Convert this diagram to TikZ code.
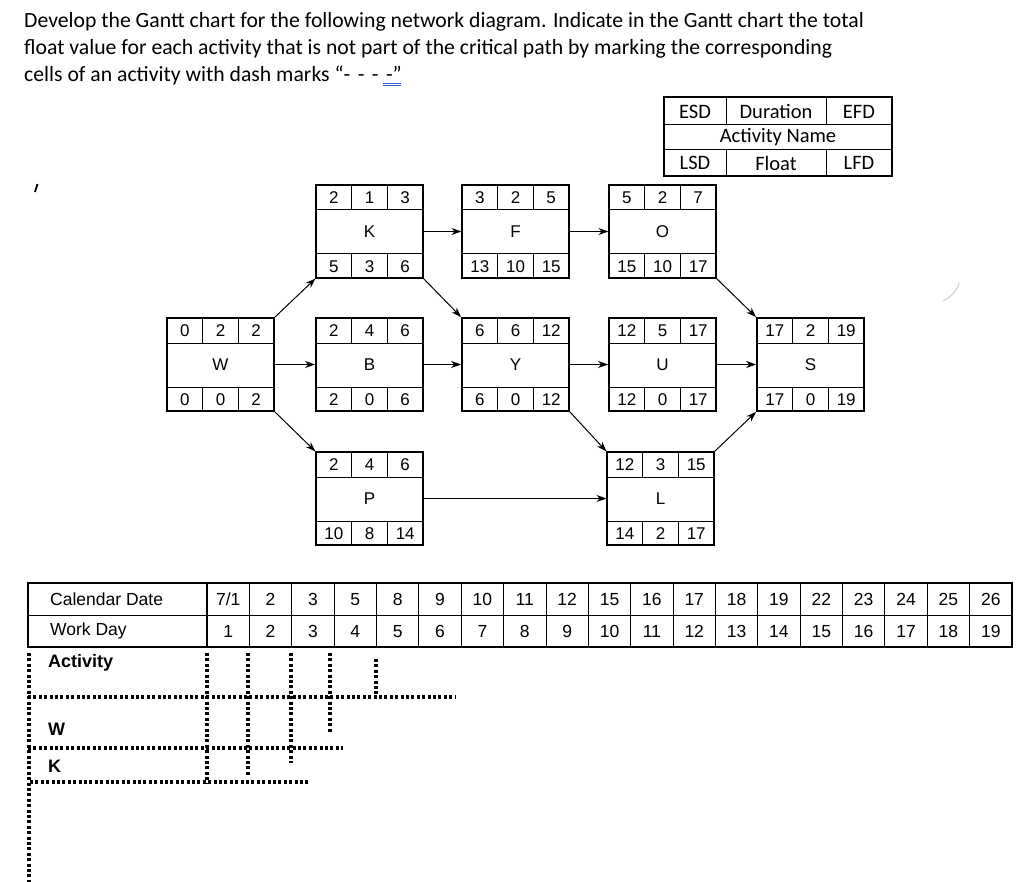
\documentclass[tikz,border=0pt]{standalone}
\usepackage{fontspec}
\setmainfont{Carlito}
\newfontfamily\arialf{Liberation Sans}
\usetikzlibrary{arrows.meta}
\definecolor{ulblue}{RGB}{50,95,210}
\newcommand\actbox[9]{%
  \ifnum#8=0 \tikzset{curbox/.style={crit}}\else\tikzset{curbox/.style={}}\fi
  \begin{scope}[shift={#2}]
    \node[abox,curbox] (#1) at (53.5,46.5) {};
    \draw[divl] (0,25) -- (107,25) (0,69) -- (107,69)
      (35.7,0) -- (35.7,25) (71.3,0) -- (71.3,25)
      (35.7,69) -- (35.7,93) (71.3,69) -- (71.3,93);
    \node[cell] (#1-esd) at (17.8,13) {#3};
    \node[cell] (#1-dur) at (53.5,13) {#4};
    \node[cell] (#1-efd) at (89.2,13) {#5};
    \node[cell] (#1-name) at (53.5,47) {#6};
    \node[cell] (#1-lsd) at (17.8,81.5) {#7};
    \node[cell] (#1-flt) at (53.5,81.5) {#8};
    \node[cell] (#1-lfd) at (89.2,81.5) {#9};
  \end{scope}}
\begin{document}
\begin{tikzpicture}[x=1pt,y=-1pt,
  abox/.style={draw,line width=1.2pt,minimum width=107pt,minimum height=93pt,inner sep=0pt},
  crit/.style={line width=1.9pt},
  divl/.style={line width=1pt},
  cell/.style={font=\arialf\fontsize{17}{17}\selectfont,inner sep=0pt},
  conn/.style={-{Stealth[length=10pt,width=7pt]},line width=1pt},
  tbl/.style={font=\arialf\fontsize{17.5}{18}\selectfont,inner sep=0pt},
  lgd/.style={font=\fontsize{20.5}{20.5}\selectfont,inner sep=0pt},
  ttl/.style={font=\fontsize{21.7}{22}\selectfont,inner sep=0pt,anchor=base west},
  gdots/.style={line width=3.2pt,dash pattern=on 3pt off 2.4pt},
  glab/.style={font=\arialf\bfseries\fontsize{18}{18}\selectfont,inner sep=0pt,anchor=west}]
\useasboundingbox (0,0) rectangle (1024,882);
% title
\node[ttl] (t1) at (24,27.3) {Develop the Gantt chart for the following network diagram. Indicate in the Gantt chart the total};
\node[ttl] (t2) at (24,54.5) {float value for each activity that is not part of the critical path by marking the corresponding};
\node[ttl] (t3) at (24,81.5) {cells of an activity with dash marks “-\hspace{7.5pt}-\hspace{7.5pt}-\hspace{7.5pt}-”};
\draw[ulblue,line width=1.1pt] ([xshift=-19pt,yshift=-1.8pt]t3.base east) -- ([xshift=-1pt,yshift=-1.8pt]t3.base east)
  ([xshift=-19pt,yshift=-4.4pt]t3.base east) -- ([xshift=-1pt,yshift=-4.4pt]t3.base east);
% stray marks
\draw[line width=1.8pt] (35,192) -- (37.5,184);
\draw[black!20,line width=1pt] (943,301) .. controls (952,296) and (957,291) .. (959,283);
% legend
\node[draw,line width=1.4pt,minimum width=228pt,minimum height=79pt,inner sep=0pt] (legend) at (778,136.5) {};
\draw[line width=1pt] (664,124.5) -- (892,124.5) (664,150) -- (892,150)
  (726,97) -- (726,124.5) (826,97) -- (826,124.5)
  (726,150) -- (726,176) (826,150) -- (826,176);
\node[lgd] (lg-esd) at (695,111.5) {ESD};
\node[lgd] (lg-dur) at (776,111.5) {Duration};
\node[lgd] (lg-efd) at (859,111.5) {EFD};
\node[lgd] (lg-name) at (778,137.5) {Activity Name};
\node[lgd] (lg-lsd) at (695,163) {LSD};
\node[lgd] (lg-flt) at (776,163) {Float};
\node[lgd] (lg-lfd) at (859,163) {LFD};
% activity boxes
\actbox{W}{(167,318)}{0}{2}{2}{W}{0}{0}{2}
\actbox{K}{(316,185)}{2}{1}{3}{K}{5}{3}{6}
\actbox{B}{(316,318)}{2}{4}{6}{B}{2}{0}{6}
\actbox{P}{(316,452)}{2}{4}{6}{P}{10}{8}{14}
\actbox{F}{(462,185)}{3}{2}{5}{F}{13}{10}{15}
\actbox{Y}{(462,318)}{6}{6}{12}{Y}{6}{0}{12}
\actbox{O}{(609,185)}{5}{2}{7}{O}{15}{10}{17}
\actbox{U}{(609,318)}{12}{5}{17}{U}{12}{0}{17}
\actbox{L}{(607,452)}{12}{3}{15}{L}{14}{2}{17}
\actbox{S}{(757,318)}{17}{2}{19}{S}{17}{0}{19}
% connectors
\draw[conn] (W.north east) -- (K.south west);
\draw[conn] (W.east) -- (B.west);
\draw[conn] (W.south east) -- (P.north west);
\draw[conn] (K.east) -- (F.west);
\draw[conn] (K.south east) -- (Y.north west);
\draw[conn] (B.east) -- (Y.west);
\draw[conn] (F.east) -- (O.west);
\draw[conn] (Y.east) -- (U.west);
\draw[conn] (Y.south east) -- (L.north west);
\draw[conn] (P.east) -- (L.west);
\draw[conn] (O.south east) -- (S.north west);
\draw[conn] (U.east) -- (S.west);
\draw[conn] (L.north east) -- (S.south west);
% calendar table
\draw[line width=1.6pt] (28,583) rectangle (1012,647);
\draw[line width=1pt] (28,615) -- (1012,615);
\draw[line width=1.4pt] (207,583) -- (207,647);
\foreach \i in {1,...,18} \draw[line width=0.9pt] (207+\i*42.368,583) -- (207+\i*42.368,647);
\node[tbl,anchor=west] (cal-lab) at (50,599) {Calendar Date};
\node[tbl,anchor=west] (wd-lab) at (50,631) {Work Day};
\foreach \d [count=\i] in {7/1,2,3,5,8,9,10,11,12,15,16,17,18,19,22,23,24,25,26}
  \node[tbl] (cal-\i) at (207+\i*42.368-21.184,599.5) {\d};
\foreach \i in {1,...,19}
  \node[tbl] (wd-\i) at (207+\i*42.368-21.184,631.5) {\i};
% gantt area
\node[glab] (g-act) at (48,663) {Activity};
\node[glab] (g-w) at (48,729) {W};
\node[glab] (g-k) at (48,766) {K};
\draw[gdots] (29,653) -- (29,882);
\draw[gdots] (207,653) -- (207,783);
\draw[gdots] (248,653) -- (248,775);
\draw[gdots] (291,653) -- (291,763);
\draw[gdots] (330,653) -- (330,732);
\draw[gdots] (376,659) -- (376,696);
\draw[gdots] (28,697) -- (455,697);
\draw[gdots] (28,748) -- (343,748);
\draw[gdots] (30,782) -- (309,782);
\end{tikzpicture}
\end{document}
